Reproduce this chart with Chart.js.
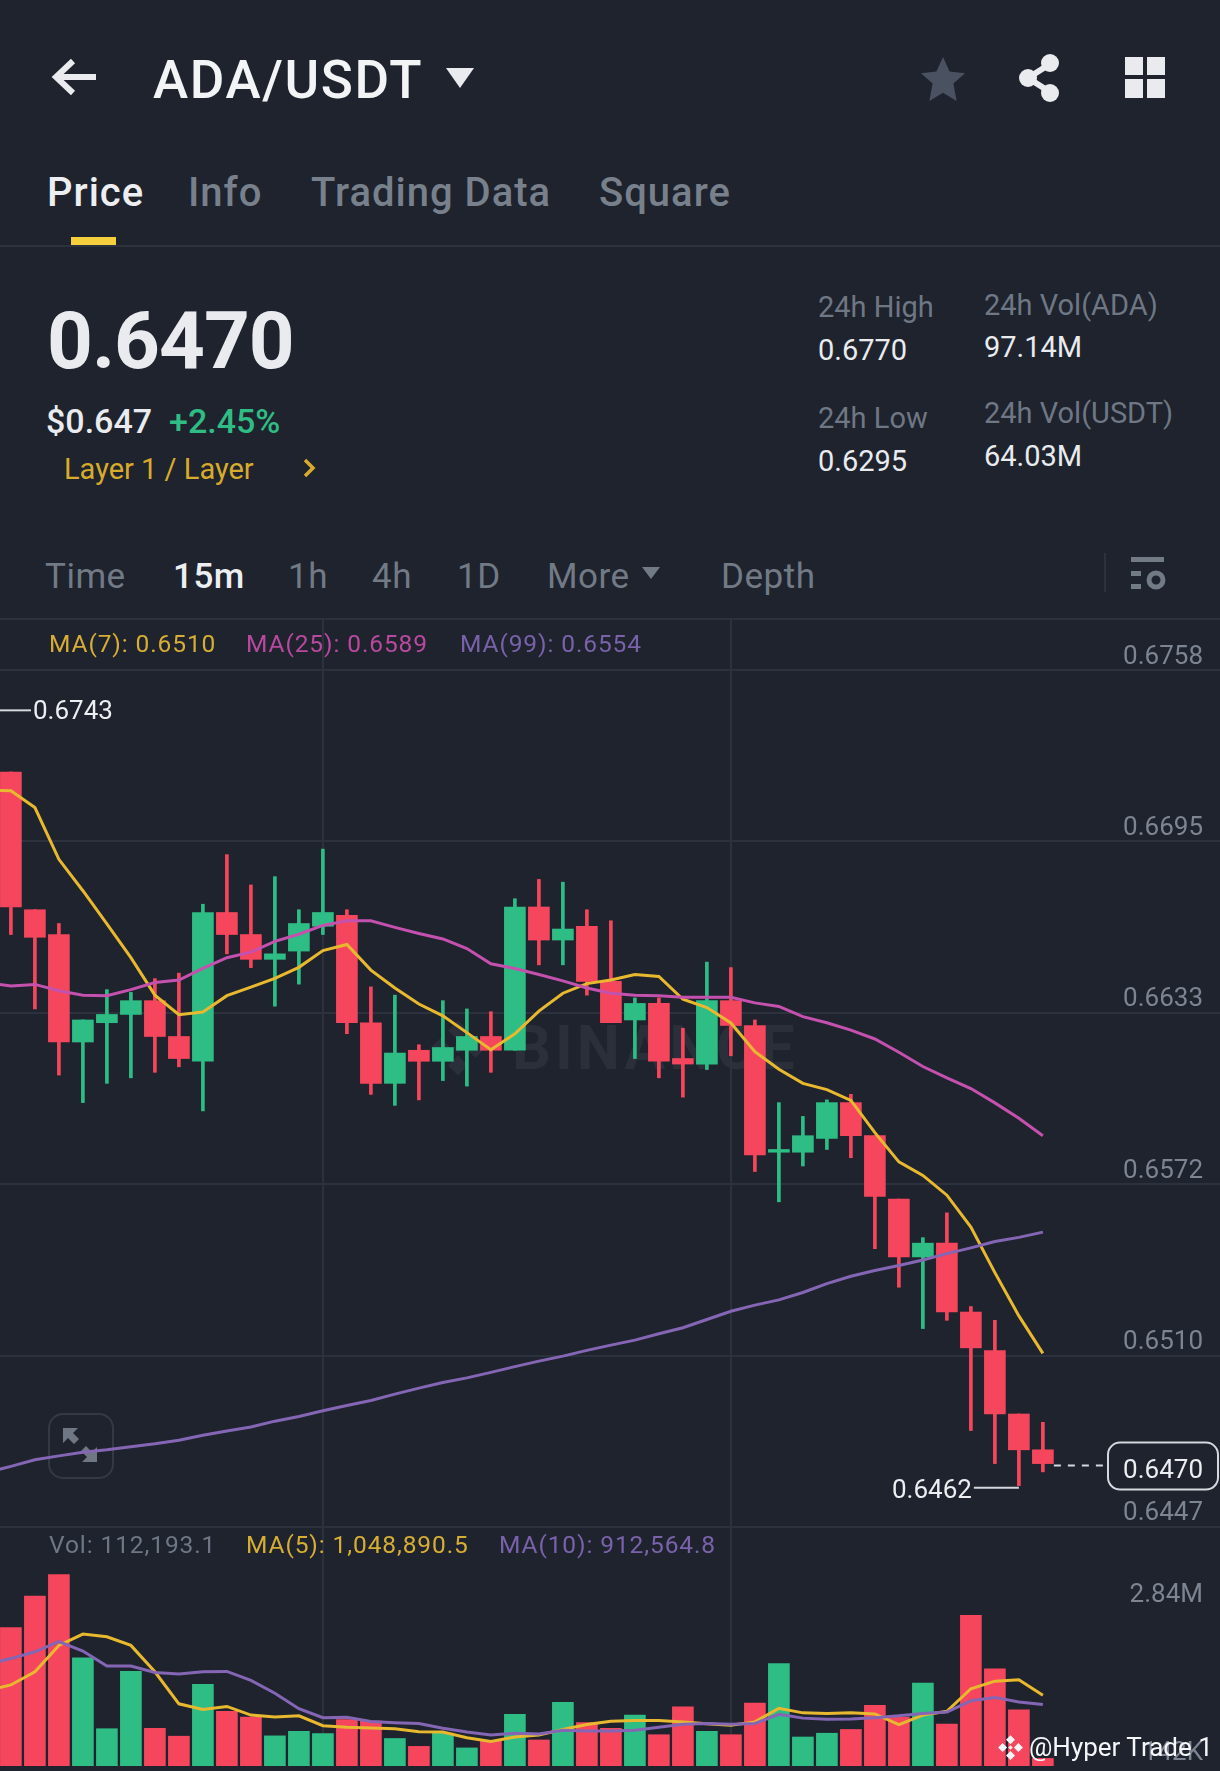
<!DOCTYPE html>
<html>
<head>
<meta charset="utf-8">
<title>ADA/USDT</title>
<script src="https://cdn.jsdelivr.net/npm/chart.js@4"></script>
<style>
html, body { margin: 0; padding: 0; background: #1e232e; }
body { position: relative; width: 1220px; height: 1771px; overflow: hidden; font-family: Roboto, sans-serif; color: #e9ebef; }
.t { position: absolute; line-height: 1; white-space: nowrap; transform: translateY(-50%); }
.dim { color: #6f7784; }
.tab { font-size: 40px; font-weight: 500; letter-spacing: 1px; color: #78808c; }
.stat { font-size: 29px; }
.range { font-size: 35px; color: #727a86; letter-spacing: .5px; }
.ma { font-size: 24.5px; letter-spacing: .9px; }
.rule { position: absolute; left: 0; width: 1220px; height: 2px; background: #2c323d; }
canvas { position: absolute; left: 0; }
svg { position: absolute; }
#wm { position: absolute; left: 512px; top: 1048px; transform: translateY(-50%); font-size: 61px; font-weight: 700; letter-spacing: 4px; color: #2a2f3a; line-height: 1; }
#expand { position: absolute; left: 48px; top: 1413px; width: 62px; height: 62px; border: 2px solid #343a45; border-radius: 15px; }
</style>
</head>
<body>

<!-- header -->
<svg style="left:50px;top:56px" width="50" height="42" viewBox="0 0 50 42"><path d="M46 21H7M23 5L6 21l17 16" fill="none" stroke="#e9ebef" stroke-width="6"/></svg>
<div class="t" style="left:153px;top:80px;font-size:53px;font-weight:500;letter-spacing:1.6px;color:#f3f4f6">ADA/USDT</div>
<svg style="left:445px;top:67px" width="30" height="22"><path d="M1 1h28L15 21z" fill="#e9ebef"/></svg>
<svg style="left:919px;top:55px" width="48" height="48" viewBox="0 0 24 24"><path d="M12 1l3.3 7.3 7.7.8-5.8 5.2L18.8 23 12 18.9 5.2 23l1.6-8.7L1 9.100l7.700-.8z" fill="#4a5261"/></svg>
<svg style="left:1015px;top:52px" width="48" height="52" viewBox="0 0 48 52"><path d="M35 12L13 26l22 14" fill="none" stroke="#e9ebef" stroke-width="6"/><circle cx="35" cy="11" r="9" fill="#e9ebef"/><circle cx="13" cy="26" r="9" fill="#e9ebef"/><circle cx="35" cy="41" r="9" fill="#e9ebef"/></svg>
<svg style="left:1125px;top:57px" width="40" height="41"><path d="M0 0h18v18H0zM22 0h18v18H22zM0 22h18v19H0zM22 22h18v19H22z" fill="#e9ebef"/></svg>

<!-- tabs -->
<div class="t tab" style="left:47px;top:193px;color:#eceef1">Price</div>
<div class="t tab" style="left:188px;top:193px">Info</div>
<div class="t tab" style="left:311px;top:193px">Trading Data</div>
<div class="t tab" style="left:599px;top:193px">Square</div>
<div style="position:absolute;left:71px;top:237px;width:45px;height:8px;background:#f6cf3d"></div>
<div class="rule" style="top:245px"></div>

<!-- price block -->
<div class="t" style="left:47px;top:341px;font-size:80px;font-weight:700;letter-spacing:-1px;color:#e9ebef">0.6470</div>
<div class="t" style="left:46px;top:421px;font-size:34px;font-weight:500">$0.647</div>
<div class="t" style="left:169px;top:421px;font-size:34px;font-weight:500;color:#2ebd85">+2.45%</div>
<div class="t" style="left:64px;top:469px;font-size:29px;color:#d9ab2c">Layer 1 / Layer</div>
<svg style="left:302px;top:458px" width="14" height="20"><path d="M3 2l8 8-8 8" fill="none" stroke="#d9ab2c" stroke-width="3.500"/></svg>

<div class="t stat dim" style="left:818px;top:307px">24h High</div>
<div class="t stat" style="left:818px;top:350px">0.6770</div>
<div class="t stat dim" style="left:818px;top:418px">24h Low</div>
<div class="t stat" style="left:818px;top:461px">0.6295</div>
<div class="t stat dim" style="left:984px;top:305px">24h Vol(ADA)</div>
<div class="t stat" style="left:984px;top:347px">97.14M</div>
<div class="t stat dim" style="left:984px;top:413px">24h Vol(USDT)</div>
<div class="t stat" style="left:984px;top:456px">64.03M</div>

<!-- interval row -->
<div class="t range" style="left:45px;top:576px">Time</div>
<div class="t range" style="left:173px;top:576px;color:#eceef1;font-weight:500">15m</div>
<div class="t range" style="left:288px;top:576px">1h</div>
<div class="t range" style="left:372px;top:576px">4h</div>
<div class="t range" style="left:457px;top:576px">1D</div>
<div class="t range" style="left:547px;top:576px">More</div>
<svg style="left:641px;top:566px" width="20" height="14"><path d="M1 1h18L10 13z" fill="#727a86"/></svg>
<div class="t range" style="left:721px;top:576px">Depth</div>
<div style="position:absolute;left:1104px;top:553px;width:2px;height:39px;background:#2c323d"></div>
<svg style="left:1130px;top:555px" width="38" height="38"><path d="M1 2h33v5H1zM1 16h10v5H1zM1 29h10v5H1z" fill="#727a86"/><circle cx="26" cy="25" r="7" fill="none" stroke="#727a86" stroke-width="5"/></svg>
<div class="rule" style="top:618px"></div>

<!-- behind the price chart -->
<svg style="left:428px;top:1018px" width="60" height="60" viewBox="0 0 24 24"><path d="M12 1l4 4-4 4-4-4zM5 8l4 4-4 4-4-4zM19 8l4 4-4 4-4-4zM12 15l4 4-4 4-4-4zM12 10l2 2-2 2-2-2z" fill="#2a2f3a"/></svg>
<div id="wm">BINANCE</div>
<div id="expand"></div>
<svg style="left:60px;top:1425px" width="40" height="40"><path d="M3 3h15l-5 5 6 6-5 5-6-6-5 5zM37 37H22l5-5-6-6 5-5 6 6 5-5z" fill="#6f7784"/></svg>

<canvas id="price" width="1220" height="910" style="top:620px"></canvas>
<canvas id="volume" width="1220" height="241" style="top:1530px"></canvas>

<!-- indicator lines -->
<div class="t ma" style="left:49px;top:644px;color:#d7ae33">MA(7): 0.6510</div>
<div class="t ma" style="left:246px;top:644px;color:#b8499f">MA(25): 0.6589</div>
<div class="t ma" style="left:460px;top:644px;color:#7a62ab">MA(99): 0.6554</div>
<div class="t ma" style="left:49px;top:1545px;color:#6f7784">Vol: 112,193.1</div>
<div class="t ma" style="left:246px;top:1545px;color:#d7ae33">MA(5): 1,048,890.5</div>
<div class="t ma" style="left:499px;top:1545px;color:#7a62ab">MA(10): 912,564.8</div>

<!-- watermark -->
<svg style="left:997px;top:1734px" width="27" height="27" viewBox="0 0 24 24"><path d="M12 1l4 4-4 4-4-4zM5 8l4 4-4 4-4-4zM19 8l4 4-4 4-4-4zM12 15l4 4-4 4-4-4zM12 10l2 2-2 2-2-2z" fill="#f3f4f6"/></svg>
<div class="t" style="left:1029px;top:1747px;font-size:26px;color:#f5f6f8">@Hyper Trade 1</div>

<script>
// Candles, left to right
var opens = [0.6721, 0.6671, 0.6662, 0.6623, 0.6630, 0.6633, 0.6638, 0.6625, 0.6616, 0.6670, 0.6662, 0.6653, 0.6656, 0.6665, 0.6669, 0.6630, 0.6608, 0.6620, 0.6616, 0.6620, 0.6625, 0.6620, 0.6672, 0.6660, 0.6665, 0.6645, 0.6631, 0.6637, 0.6617, 0.6615, 0.6638, 0.6629, 0.6583, 0.6583, 0.6588, 0.6601, 0.6589, 0.6566, 0.6545, 0.6550, 0.6525, 0.6511, 0.6488, 0.6475];
var closes = [0.6672, 0.6661, 0.6623, 0.6631, 0.6633, 0.6638, 0.6625, 0.6617, 0.6670, 0.6662, 0.6653, 0.6655, 0.6666, 0.6670, 0.6630, 0.6608, 0.6619, 0.6616, 0.6621, 0.6625, 0.6620, 0.6672, 0.6660, 0.6664, 0.6645, 0.6630, 0.6637, 0.6616, 0.6615, 0.6638, 0.6629, 0.6582, 0.6584, 0.6589, 0.6601, 0.6589, 0.6567, 0.6545, 0.6550, 0.6525, 0.6512, 0.6488, 0.6475, 0.6470];
var highs = [0.6721, 0.6671, 0.6666, 0.6631, 0.6642, 0.6641, 0.6646, 0.6648, 0.6673, 0.6691, 0.6680, 0.6683, 0.6671, 0.6693, 0.6671, 0.6643, 0.6640, 0.6622, 0.6638, 0.6635, 0.6634, 0.6675, 0.6682, 0.6681, 0.6671, 0.6667, 0.6639, 0.6639, 0.6628, 0.6652, 0.6650, 0.6631, 0.6601, 0.6596, 0.6602, 0.6604, 0.6589, 0.6566, 0.6552, 0.6561, 0.6527, 0.6522, 0.6488, 0.6485];
var lows = [0.6662, 0.6635, 0.6611, 0.6601, 0.6608, 0.6610, 0.6612, 0.6614, 0.6598, 0.6655, 0.6650, 0.6636, 0.6644, 0.6662, 0.6626, 0.6604, 0.6600, 0.6602, 0.6609, 0.6607, 0.6612, 0.6620, 0.6651, 0.6651, 0.6640, 0.6630, 0.6617, 0.6610, 0.6603, 0.6613, 0.6618, 0.6576, 0.6565, 0.6578, 0.6584, 0.6581, 0.6548, 0.6534, 0.6519, 0.6522, 0.6482, 0.6470, 0.6462, 0.6467];

// Moving averages, first value is one candle off the left edge
var ma7 = [0.67144, 0.67142, 0.67081, 0.66893, 0.66779, 0.66659, 0.66536, 0.66400, 0.66329, 0.66339, 0.66398, 0.66429, 0.66461, 0.66501, 0.66562, 0.66584, 0.66491, 0.66426, 0.66368, 0.66325, 0.66264, 0.66202, 0.66260, 0.66342, 0.66407, 0.66442, 0.66455, 0.66475, 0.66468, 0.66385, 0.66355, 0.66299, 0.66195, 0.66131, 0.66080, 0.66057, 0.66018, 0.65901, 0.65795, 0.65746, 0.65674, 0.65558, 0.65393, 0.65236, 0.65100];
var ma25 = [0.66446, 0.66433, 0.66439, 0.66416, 0.66400, 0.66398, 0.66420, 0.66446, 0.66455, 0.66497, 0.66536, 0.66556, 0.66595, 0.66621, 0.66653, 0.66670, 0.66670, 0.66646, 0.66624, 0.66604, 0.66569, 0.66514, 0.66497, 0.66475, 0.66452, 0.66426, 0.66407, 0.66400, 0.66398, 0.66392, 0.66392, 0.66392, 0.66372, 0.66359, 0.66322, 0.66300, 0.66273, 0.66241, 0.66193, 0.66141, 0.66100, 0.66061, 0.66009, 0.65953, 0.65890];
var ma99 = [0.64668, 0.64690, 0.64714, 0.64728, 0.64741, 0.64750, 0.64761, 0.64772, 0.64785, 0.64803, 0.64818, 0.64833, 0.64854, 0.64871, 0.64892, 0.64911, 0.64929, 0.64952, 0.64974, 0.64994, 0.65011, 0.65031, 0.65052, 0.65072, 0.65090, 0.65111, 0.65130, 0.65148, 0.65171, 0.65193, 0.65223, 0.65253, 0.65275, 0.65294, 0.65321, 0.65353, 0.65380, 0.65401, 0.65419, 0.65439, 0.65462, 0.65483, 0.65506, 0.65521, 0.65540];

// Volume
var volumes = [2052000, 2521000, 2840000, 1604000, 553000, 1403000, 559000, 442000, 1213000, 811000, 727000, 447000, 514000, 481000, 688000, 665000, 408000, 291000, 486000, 268000, 369000, 766000, 386000, 945000, 643000, 559000, 755000, 464000, 878000, 514000, 464000, 934000, 1520000, 430000, 486000, 542000, 900000, 727000, 1230000, 620000, 2236000, 1442000, 833000, 112193.1];
var volMa5 = [1118000, 1201850, 1397500, 1788800, 1956500, 1917370, 1788800, 1397500, 922350, 838500, 883220, 754650, 726700, 743470, 598130, 575770, 564590, 553410, 508690, 503100, 419250, 363350, 430430, 458380, 542230, 614900, 665210, 676390, 676390, 654030, 626080, 603720, 654030, 855270, 788190, 777010, 788190, 771420, 614900, 754650, 810550, 1145950, 1257750, 1280110, 1048890.5];
var volMa10 = [1509300, 1593150, 1693770, 1844700, 1704950, 1481350, 1481350, 1386320, 1363960, 1397500, 1403090, 1268930, 1078870, 849680, 715520, 721110, 659620, 642850, 631670, 559000, 503100, 458380, 486330, 475150, 531050, 519870, 519870, 531050, 575770, 620490, 631670, 620490, 631670, 765830, 709930, 693160, 698750, 715520, 743470, 777010, 799370, 967070, 1017380, 950300, 912564.8];

// Axis
var priceTickLabels = ['0.6758', '0.6695', '0.6633', '0.6572', '0.6510', '0.6447'];
var priceGridValues = [0.6758, 0.66958, 0.66336, 0.65714, 0.65092, 0.6447];
var volumeTickLabels = ['2.84M', '142K'];
var volumeTickSpots = [2530000, 190000]; // where those two labels sit on the volume scale
var timeLines = [13, 30];

// Markers
var highMark = 0.6743;
var lowMark = 0.6462;
var lastPrice = 0.6470;

var green = '#2ebd85';
var red = '#f6465d';
var gridColor = '#2c323d';
var tickColor = '#7d8592';
var bg = '#1e232e';

function candleColors() {
	return opens.map(function(o, i) { return closes[i] >= o ? green : red; });
}

// Axes sit inside the plot, so they must not take any room from it
function noRoom(scale) {
	scale.paddingTop = 0;
	scale.paddingBottom = 0;
	scale.paddingLeft = 0;
	scale.paddingRight = 0;
	if (scale.axis === 'y') {
		scale.width = 0;
	} else {
		scale.height = 0;
	}
}

function timeAxis() {
	return {
		type: 'linear',
		offset: false,
		min: -0.454,
		max: 50.38,
		afterBuildTicks: function(scale) {
			scale.ticks = timeLines.map(function(v) { return { value: v }; });
		},
		afterFit: noRoom,
		ticks: { display: false },
		border: { display: false },
		grid: { color: gridColor, lineWidth: 2, drawTicks: false, offset: false }
	};
}

function maLine(values, color, width) {
	return {
		type: 'line',
		data: values.map(function(v, i) { return { x: i - 1, y: v }; }),
		borderColor: color,
		borderWidth: width,
		pointRadius: 0,
		tension: 0,
		order: 0
	};
}

// Price marks: high and low pointers, last price tag
var markers = {
	id: 'markers',
	afterDatasetsDraw: function(chart) {
		var ctx = chart.ctx;
		var x = chart.scales.x;
		var y = chart.scales.y;
		ctx.save();
		ctx.font = '26px Roboto';
		ctx.textBaseline = 'middle';
		ctx.strokeStyle = '#d5d8dd';
		ctx.fillStyle = '#eceef1';
		ctx.lineWidth = 2;

		var hy = y.getPixelForValue(highMark) - 1;
		ctx.beginPath();
		ctx.moveTo(0, hy);
		ctx.lineTo(31, hy);
		ctx.stroke();
		ctx.textAlign = 'left';
		ctx.fillText(highMark.toFixed(4), 33, hy + 2);

		var ly = y.getPixelForValue(lowMark) + 2;
		var lx = x.getPixelForValue(42);
		ctx.beginPath();
		ctx.moveTo(lx, ly);
		ctx.lineTo(lx - 45, ly);
		ctx.stroke();
		ctx.textAlign = 'right';
		ctx.fillText(lowMark.toFixed(4), lx - 47, ly + 4);

		var py = y.getPixelForValue(lastPrice) + 2;
		var px = x.getPixelForValue(43) + 11;
		ctx.setLineDash([7, 7]);
		ctx.beginPath();
		ctx.moveTo(px, py);
		ctx.lineTo(1108, py);
		ctx.stroke();
		ctx.setLineDash([]);
		ctx.fillStyle = bg;
		ctx.beginPath();
		ctx.roundRect(1108, py - 23, 110, 47, 12);
		ctx.fill();
		ctx.stroke();
		ctx.fillStyle = '#eceef1';
		ctx.textAlign = 'right';
		ctx.fillText(lastPrice.toFixed(4), 1203, py + 6);
		ctx.restore();
	}
};

var colors = candleColors();

var price = new Chart(document.getElementById('price'), {
	type: 'bar',
	data: {
		datasets: [
			maLine(ma99, '#8466b5', 3),
			maLine(ma25, '#c451ae', 3),
			maLine(ma7, '#e8b92f', 3),
			{
				data: opens.map(function(o, i) { return { x: i, y: [o, closes[i]] }; }),
				backgroundColor: colors,
				barThickness: 21,
				grouped: false,
				order: 1
			},
			{
				data: lows.map(function(l, i) { return { x: i, y: [l, highs[i]] }; }),
				backgroundColor: colors,
				barThickness: 3,
				grouped: false,
				order: 2
			}
		]
	},
	options: {
		responsive: false,
		animation: false,
		devicePixelRatio: 1,
		layout: { padding: 0 },
		plugins: { legend: { display: false }, tooltip: { enabled: false } },
		scales: {
			x: timeAxis(),
			y: {
				position: 'right',
				min: 0.64459,
				max: 0.677615,
				afterBuildTicks: function(scale) {
					scale.ticks = priceGridValues.map(function(v) { return { value: v }; });
				},
				afterFit: noRoom,
				ticks: {
					mirror: true,
					padding: -17,
					labelOffset: -13,
					color: tickColor,
					font: { family: 'Roboto', size: 26 },
					callback: function(v, i) { return priceTickLabels[i]; }
				},
				border: { display: false },
				grid: { color: gridColor, lineWidth: 2, drawTicks: false }
			}
		}
	},
	plugins: [markers]
});

var volume = new Chart(document.getElementById('volume'), {
	type: 'bar',
	data: {
		datasets: [
			maLine(volMa10, '#8466b5', 3),
			maLine(volMa5, '#e8b92f', 3),
			{
				data: volumes.map(function(v, i) { return { x: i, y: v }; }),
				backgroundColor: colors,
				barThickness: 21,
				grouped: false,
				order: 1
			}
		]
	},
	options: {
		responsive: false,
		animation: false,
		devicePixelRatio: 1,
		layout: { padding: { bottom: 5 } },
		plugins: { legend: { display: false }, tooltip: { enabled: false } },
		scales: {
			x: timeAxis(),
			y: {
				position: 'right',
				min: 0,
				max: 3500000,
				afterBuildTicks: function(scale) {
					scale.ticks = volumeTickSpots.map(function(v) { return { value: v }; });
				},
				afterFit: noRoom,
				ticks: {
					mirror: true,
					padding: -17,
					color: tickColor,
					font: { family: 'Roboto', size: 26 },
					callback: function(v, i) { return volumeTickLabels[i]; }
				},
				border: { display: false },
				grid: { display: false }
			}
		}
	}
});
</script>
</body>
</html>
